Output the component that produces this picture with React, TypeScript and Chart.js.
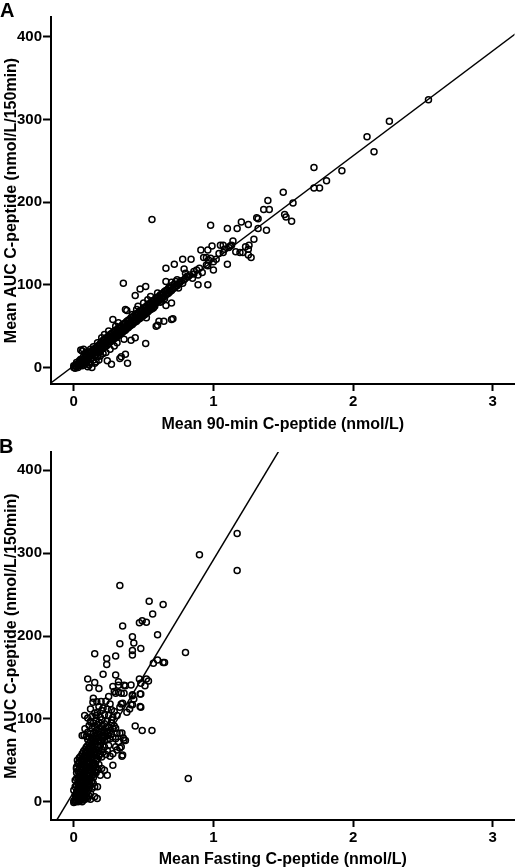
import React, { useEffect, useRef } from "react";
import { Chart, registerables } from "chart.js";

Chart.register(...registerables);

const X_TICKS = [0, 1, 2, 3];
const Y_TICKS = [0, 100, 200, 300, 400];

const TITLE_A_X = "Mean 90-min C-peptide (nmol/L)";
const TITLE_B_X = "Mean Fasting C-peptide (nmol/L)";
const TITLE_Y = "Mean AUC C-peptide (nmol/L/150min)";

// Panel A: mean 90-min C-peptide vs mean AUC C-peptide
const PANEL_A_POINTS: [number, number][] = [
  [0.00, 0], [0.01, 2], [0.01, -1], [0.02, 1], [0.02, 4], [0.03, 0], [0.03, 3], [0.00, 2], [0.02, 6],
  [0.04, 2], [0.04, 5], [0.04, 8], [0.05, 3], [0.05, 7], [0.05, 10], [0.06, 5], [0.06, 9], [0.06, 2], [0.05, 21], [0.07, 22], [0.06, 20],
  [0.07, 6], [0.07, 10], [0.07, 13], [0.08, 8], [0.08, 12], [0.08, 4], [0.09, 10], [0.09, 14], [0.09, 7], [0.08, 17],
  [0.10, 11], [0.10, 15], [0.10, 8], [0.10, 19], [0.11, 13], [0.11, 17], [0.11, 6], [0.12, 14], [0.12, 18], [0.12, 10], [0.12, 22], [0.10, 1], [0.11, 3],
  [0.13, 15], [0.13, 20], [0.13, 12], [0.14, 17], [0.14, 21], [0.14, 9], [0.15, 18], [0.15, 23], [0.15, 14], [0.14, 25], [0.13, 0], [0.15, 5],
  [0.16, 19], [0.16, 24], [0.16, 16], [0.17, 21], [0.17, 26], [0.17, 13], [0.18, 23], [0.18, 27], [0.18, 18], [0.17, 30], [0.18, 9], [0.16, 7],
  [0.19, 24], [0.19, 29], [0.19, 20], [0.20, 26], [0.20, 31], [0.20, 22], [0.21, 27], [0.21, 33], [0.21, 23], [0.20, 36], [0.19, 14], [0.21, 17],
  [0.22, 28], [0.22, 33], [0.22, 25], [0.23, 30], [0.23, 35], [0.23, 26], [0.24, 31], [0.24, 37], [0.24, 27], [0.22, 40], [0.24, 8], [0.23, 18],
  [0.25, 33], [0.25, 38], [0.25, 29], [0.26, 34], [0.26, 40], [0.26, 31], [0.27, 36], [0.27, 41], [0.27, 32], [0.25, 44], [0.27, 4], [0.26, 22],
  [0.28, 37], [0.28, 42], [0.28, 33], [0.29, 38], [0.29, 44], [0.29, 35], [0.30, 40], [0.30, 45], [0.30, 36], [0.28, 58], [0.29, 26], [0.30, 50],
  [0.31, 41], [0.31, 46], [0.31, 37], [0.32, 42], [0.32, 48], [0.32, 39], [0.33, 44], [0.33, 49], [0.33, 40], [0.33, 11], [0.32, 54], [0.31, 30],
  [0.34, 45], [0.34, 50], [0.34, 41], [0.35, 46], [0.35, 52], [0.35, 43], [0.36, 48], [0.36, 53], [0.36, 44], [0.34, 13], [0.355, 102], [0.36, 34],
  [0.37, 49], [0.37, 54], [0.37, 45], [0.38, 50], [0.38, 56], [0.38, 47], [0.39, 52], [0.39, 57], [0.39, 48], [0.37, 16], [0.38, 69], [0.385, 5], [0.37, 70],
  [0.40, 53], [0.40, 58], [0.40, 50], [0.41, 54], [0.41, 60], [0.41, 51], [0.42, 56], [0.42, 61], [0.42, 52], [0.41, 33], [0.42, 64],
  [0.43, 57], [0.43, 62], [0.43, 54], [0.44, 58], [0.44, 64], [0.44, 55], [0.45, 60], [0.45, 65], [0.45, 56], [0.44, 36], [0.44, 87], [0.45, 70],
  [0.46, 61], [0.46, 66], [0.46, 58], [0.47, 62], [0.47, 68], [0.47, 59], [0.48, 64], [0.48, 69], [0.48, 60], [0.475, 95], [0.46, 74],
  [0.49, 65], [0.49, 70], [0.49, 62], [0.50, 66], [0.50, 72], [0.50, 63], [0.51, 68], [0.51, 73], [0.51, 64], [0.515, 98], [0.515, 29], [0.50, 78],
  [0.52, 69], [0.52, 74], [0.52, 66], [0.53, 70], [0.53, 76], [0.53, 67], [0.54, 72], [0.54, 77], [0.54, 69], [0.53, 82], [0.52, 60],
  [0.55, 73], [0.55, 78], [0.55, 70], [0.56, 74], [0.56, 80], [0.56, 71], [0.57, 76], [0.57, 81], [0.57, 72], [0.56, 179], [0.55, 86],
  [0.58, 77], [0.58, 82], [0.58, 74], [0.59, 78], [0.59, 84], [0.59, 50], [0.60, 80], [0.60, 85], [0.60, 51], [0.61, 56], [0.60, 90],
  [0.61, 81], [0.61, 86], [0.62, 82], [0.62, 88], [0.62, 79], [0.63, 84], [0.63, 89], [0.63, 80], [0.645, 56],
  [0.64, 85], [0.64, 90], [0.65, 86], [0.65, 92], [0.65, 83], [0.66, 88], [0.66, 93], [0.66, 75], [0.66, 104], [0.66, 120],
  [0.67, 89], [0.67, 94], [0.68, 90], [0.68, 96], [0.69, 92], [0.69, 97], [0.70, 93], [0.70, 99], [0.70, 58], [0.70, 78], [0.71, 59], [0.70, 103],
  [0.71, 95], [0.72, 97], [0.72, 101], [0.72, 125], [0.73, 98], [0.73, 104], [0.74, 99], [0.74, 106], [0.75, 101], [0.75, 96],
  [0.76, 103], [0.77, 105], [0.78, 131], [0.78, 102], [0.79, 106], [0.79, 119], [0.80, 114], [0.80, 108], [0.84, 131],
  [0.81, 110], [0.82, 110], [0.83, 112], [0.85, 108], [0.86, 116], [0.86, 113], [0.88, 118], [0.89, 112], [0.89, 100], [0.90, 120], [0.91, 142], [0.92, 115], [0.93, 133],
  [0.95, 124], [0.96, 123], [0.96, 100], [0.965, 130], [0.96, 142], [0.98, 172], [0.99, 147], [1.00, 118], [1.00, 128], [1.02, 131], [0.95, 133], [0.98, 132],
  [1.04, 138], [1.05, 148], [1.07, 148], [1.07, 139], [1.08, 143], [1.10, 125], [1.10, 168], [1.11, 145], [1.13, 148], [1.14, 153], [1.16, 140], [1.12, 147],
  [1.17, 168], [1.19, 139], [1.20, 176], [1.21, 139], [1.23, 146], [1.255, 148], [1.25, 143], [1.25, 136], [1.27, 133], [1.25, 173], [1.32, 168], [1.32, 180], [1.29, 155],
  [1.36, 191], [1.38, 166], [1.39, 202], [1.40, 191], [1.31, 181], [1.50, 212], [1.51, 185], [1.52, 182], [1.56, 177], [1.57, 199],
  [1.72, 242], [1.72, 217], [1.76, 217], [1.81, 226], [1.92, 238], [2.10, 279], [2.15, 261], [2.26, 298], [2.54, 324],
];

// Panel B: mean fasting C-peptide vs mean AUC C-peptide
const PANEL_B_POINTS: [number, number][] = [
  [0.00, 1], [0.01, 0], [0.01, 3], [0.02, 1], [0.02, 5], [0.03, 0], [0.03, 3], [0.03, 8], [0.04, 1], [0.04, 5], [0.04, 10], [0.05, 2],
  [0.05, 7], [0.05, 12], [0.06, 0], [0.06, 4], [0.06, 9], [0.06, 14], [0.07, 2], [0.07, 6], [0.07, 11], [0.08, 3], [0.08, 8], [0.08, 13],
  [0.09, 5], [0.09, 10], [0.10, 4], [0.10, 12], [0.11, 7], [0.12, 3], [0.12, 10], [0.15, 6], [0.168, 4], [0.00, -1], [0.01, 8], [0.02, 12], [0.00, 14],
  [0.015, 6], [0.035, 12], [0.055, 16], [0.075, 19], [0.095, 24], [0.115, 28], [0.135, 33], [0.025, 10], [0.045, 14], [0.065, 23], [0.085, 27],
  [0.105, 31], [0.125, 37], [0.145, 44], [0.165, 52], [0.035, 30], [0.055, 38], [0.075, 45], [0.095, 55], [0.115, 60], [0.135, 66], [0.155, 70],
  [0.045, 24], [0.065, 33], [0.085, 41], [0.105, 46], [0.125, 54], [0.145, 60], [0.085, 60], [0.105, 64], [0.065, 49],
  [0.01, 18], [0.01, 26], [0.02, 20], [0.02, 28], [0.03, 16], [0.03, 22], [0.03, 29], [0.04, 18], [0.04, 25], [0.05, 17], [0.05, 23], [0.05, 30],
  [0.06, 19], [0.06, 26], [0.07, 16], [0.07, 22], [0.07, 29], [0.08, 18], [0.08, 25], [0.09, 16], [0.09, 21], [0.09, 28], [0.10, 19], [0.10, 26],
  [0.11, 17], [0.11, 24], [0.12, 20], [0.12, 28], [0.13, 16], [0.13, 25], [0.14, 22], [0.15, 18], [0.17, 18], [0.14, 29],
  [0.02, 35], [0.02, 42], [0.03, 37], [0.03, 46], [0.04, 33], [0.04, 40], [0.04, 48], [0.05, 35], [0.05, 43], [0.05, 50], [0.06, 32], [0.06, 38],
  [0.06, 45], [0.07, 34], [0.07, 41], [0.07, 48], [0.08, 31], [0.08, 37], [0.08, 44], [0.08, 50], [0.09, 33], [0.09, 40], [0.09, 47], [0.10, 35],
  [0.10, 42], [0.10, 49], [0.11, 31], [0.11, 38], [0.11, 45], [0.12, 34], [0.12, 41], [0.12, 48], [0.13, 36], [0.13, 43], [0.13, 50], [0.14, 33],
  [0.14, 40], [0.14, 47], [0.15, 37], [0.15, 44], [0.16, 35], [0.16, 42], [0.16, 49], [0.17, 39], [0.18, 45], [0.19, 32], [0.20, 40], [0.22, 38],
  [0.24, 32], [0.28, 44], [0.026, 50], [0.019, 40],
  [0.04, 53], [0.05, 55], [0.06, 52], [0.06, 58], [0.07, 54], [0.07, 61], [0.08, 56], [0.08, 63], [0.09, 52], [0.09, 59], [0.09, 66], [0.10, 54],
  [0.10, 61], [0.10, 68], [0.11, 56], [0.11, 63], [0.11, 70], [0.12, 52], [0.12, 59], [0.12, 66], [0.13, 55], [0.13, 62], [0.13, 69], [0.14, 57],
  [0.14, 64], [0.14, 71], [0.15, 53], [0.15, 60], [0.15, 67], [0.16, 56], [0.16, 63], [0.17, 52], [0.17, 59], [0.17, 66], [0.18, 55], [0.18, 62],
  [0.19, 58], [0.19, 68], [0.20, 54], [0.20, 63], [0.21, 60], [0.22, 66], [0.23, 57], [0.24, 62], [0.25, 68], [0.26, 55], [0.30, 66.5], [0.33, 65],
  [0.31, 62.5], [0.345, 55], [0.35, 56.5], [0.34, 66.5], [0.28, 58],
  [0.06, 80], [0.073, 80.6], [0.09, 78.6], [0.08, 88], [0.10, 75], [0.10, 84], [0.11, 78], [0.11, 92], [0.12, 73], [0.12, 82], [0.12, 96], [0.13, 77],
  [0.13, 88], [0.14, 75], [0.14, 83], [0.14, 95], [0.15, 72], [0.15, 80], [0.15, 90], [0.16, 76], [0.16, 86], [0.16, 98], [0.17, 73], [0.17, 82],
  [0.17, 93], [0.18, 78], [0.18, 88], [0.18, 96], [0.19, 74], [0.19, 84], [0.20, 72], [0.20, 80], [0.20, 91], [0.20, 99], [0.21, 77], [0.21, 86],
  [0.22, 74], [0.22, 83], [0.22, 94], [0.23, 79], [0.23, 89], [0.24, 75], [0.24, 85], [0.24, 97], [0.25, 80], [0.25, 90], [0.26, 76], [0.26, 86],
  [0.27, 82], [0.27, 95], [0.28, 78], [0.28, 88], [0.29, 91.5], [0.30, 88.7], [0.27, 99], [0.30, 76], [0.31, 83], [0.32, 72], [0.33, 82.7], [0.355, 77],
  [0.37, 74], [0.345, 83], [0.36, 74.6], [0.078, 104], [0.10, 101], [0.12, 97], [0.44, 91.5], [0.49, 86], [0.56, 86], [0.82, 28],
  [0.137, 120], [0.165, 120.6], [0.196, 121], [0.23, 121.4], [0.21, 113], [0.24, 112], [0.27, 111], [0.29, 109], [0.15, 107], [0.17, 107.6], [0.13, 103],
  [0.16, 104], [0.19, 102], [0.22, 105], [0.25, 104], [0.18, 115], [0.20, 110], [0.26, 118], [0.28, 102], [0.31, 104], [0.33, 114], [0.34, 118],
  [0.35, 119], [0.30, 131], [0.36, 131], [0.42, 129], [0.475, 130], [0.475, 115], [0.41, 117], [0.48, 114], [0.42, 117], [0.43, 124], [0.42, 128],
  [0.32, 132], [0.34, 131], [0.29, 133], [0.28, 139], [0.14, 125], [0.12, 112], [0.25, 127], [0.38, 108], [0.40, 112],
  [0.32, 144.7], [0.32, 140.7], [0.36, 140.7], [0.37, 140], [0.41, 141], [0.47, 148], [0.48, 143], [0.52, 148], [0.535, 145.6], [0.51, 140], [0.48, 130],
  [0.10, 148], [0.15, 144], [0.11, 137.5], [0.18, 136.6], [0.21, 154], [0.30, 152.8], [0.236, 173], [0.236, 165.7], [0.30, 176], [0.15, 178.6],
  [0.57, 167], [0.60, 171], [0.64, 168], [0.65, 168], [0.42, 182.6], [0.42, 177], [0.48, 185], [0.80, 180], [0.33, 190.7], [0.43, 191.5], [0.42, 199],
  [0.60, 201.6], [0.35, 212], [0.47, 216], [0.52, 216.5], [0.49, 218.5], [0.565, 226.6], [0.54, 242], [0.64, 238], [0.33, 261], [0.90, 298],
  [1.17, 323.7], [1.17, 279],
];

// Fitted regression lines (end points, clipped by the plot area)
const PANEL_A_FIT_X = [-0.2, 3.3];
const PANEL_A_FIT_Y = [-23.4, 421.1];
const PANEL_B_FIT_X = [-0.2, 1.6];
const PANEL_B_FIT_Y = [-44, 460];

const FONT_FAMILY = "'Liberation Sans', Arial, Helvetica, sans-serif";

type PanelProps = {
  points: [number, number][];
  fitX: number[];
  fitY: number[];
  xTitle: string;
  yMin: number;
  yMax: number;
  padTop: number;
  plotBottom: number;
  top: number;
};

const CANVAS_W = 520;
const CANVAS_H = 440;

function Panel(props: PanelProps) {
  const ref = useRef<HTMLCanvasElement | null>(null);
  useEffect(() => {
    if (!ref.current) return;
    const tickFont = { family: FONT_FAMILY, weight: "bold" as const, size: 15 };
    const titleFont = { family: FONT_FAMILY, weight: "bold" as const, size: 16 };
    const chart = new Chart(ref.current, {
      type: "scatter",
      data: {
        datasets: [
          {
            data: props.fitX.map((x, i) => ({ x, y: props.fitY[i] })),
            showLine: true,
            pointRadius: 0,
            borderColor: "#000",
            borderWidth: 1.5,
            backgroundColor: "#000",
          } as any,
          {
            data: props.points.map(([x, y]) => ({ x, y })),
            pointRadius: 3,
            pointBorderWidth: 1.5,
            pointBorderColor: "#000",
            pointBackgroundColor: "rgba(0,0,0,0)",
            borderColor: "#000",
            backgroundColor: "rgba(0,0,0,0)",
            showLine: false,
          } as any,
        ],
      },
      options: {
        animation: false,
        responsive: false,
        devicePixelRatio: 1,
        events: [],
        layout: { padding: { top: props.padTop, right: 2, left: 0, bottom: 0 } },
        plugins: { legend: { display: false }, tooltip: { enabled: false } },
        scales: {
          x: {
            type: "linear",
            min: -0.163,
            max: 3.156,
            afterBuildTicks: (s: any) => {
              s.ticks = X_TICKS.map((v) => ({ value: v }));
            },
            afterFit: (s: any) => {
              s.height = CANVAS_H - props.plotBottom;
            },
            grid: {
              display: true,
              drawOnChartArea: false,
              drawTicks: true,
              tickLength: 7,
              tickWidth: 2,
              tickColor: "#000",
              color: "#000",
            },
            border: { display: true, color: "#000", width: 2 },
            ticks: {
              color: "#000",
              font: tickFont,
              padding: 2,
              maxRotation: 0,
              autoSkip: false,
              callback: (v: any) => String(v),
            },
            title: {
              display: true,
              text: props.xTitle,
              color: "#000",
              font: titleFont,
              padding: { top: 0, bottom: 6 },
            },
          },
          y: {
            type: "linear",
            min: props.yMin,
            max: props.yMax,
            afterBuildTicks: (s: any) => {
              s.ticks = Y_TICKS.map((v) => ({ value: v }));
            },
            afterFit: (s: any) => {
              s.width = 51;
            },
            grid: {
              display: true,
              drawOnChartArea: false,
              drawTicks: true,
              tickLength: 8,
              tickWidth: 2,
              tickColor: "#000",
              color: "#000",
            },
            border: { display: true, color: "#000", width: 2 },
            ticks: {
              color: "#000",
              font: tickFont,
              padding: 1,
              autoSkip: false,
              callback: (v: any) => String(v),
            },
            title: {
              display: true,
              text: TITLE_Y,
              color: "#000",
              font: titleFont,
              padding: { top: 2, bottom: 0 },
            },
          },
        },
      } as any,
    });
    return () => chart.destroy();
  }, []);
  return (
    <canvas
      ref={ref}
      width={CANVAS_W}
      height={CANVAS_H}
      style={{ position: "absolute", left: 0, top: props.top, width: CANVAS_W, height: CANVAS_H }}
    />
  );
}

const labelStyle: React.CSSProperties = {
  position: "absolute",
  fontFamily: FONT_FAMILY,
  fontWeight: "bold",
  fontSize: 20,
  lineHeight: "20px",
  color: "#000",
};

export default function App() {
  return (
    <div
      style={{
        position: "absolute",
        left: 0,
        top: 0,
        width: 520,
        height: 867,
        overflow: "hidden",
        background: "#fff",
      }}
    >
      <Panel
        points={PANEL_A_POINTS}
        fitX={PANEL_A_FIT_X}
        fitY={PANEL_A_FIT_Y}
        xTitle={TITLE_A_X}
        yMin={-20}
        yMax={424}
        padTop={17}
        plotBottom={384}
        top={0}
      />
      <Panel
        points={PANEL_B_POINTS}
        fitX={PANEL_B_FIT_X}
        fitY={PANEL_B_FIT_Y}
        xTitle={TITLE_B_X}
        yMin={-22}
        yMax={422}
        padTop={17}
        plotBottom={385}
        top={435}
      />
      <div style={{ ...labelStyle, left: 0, top: 0 }}>A</div>
      <div style={{ ...labelStyle, left: -1, top: 436 }}>B</div>
    </div>
  );
}
